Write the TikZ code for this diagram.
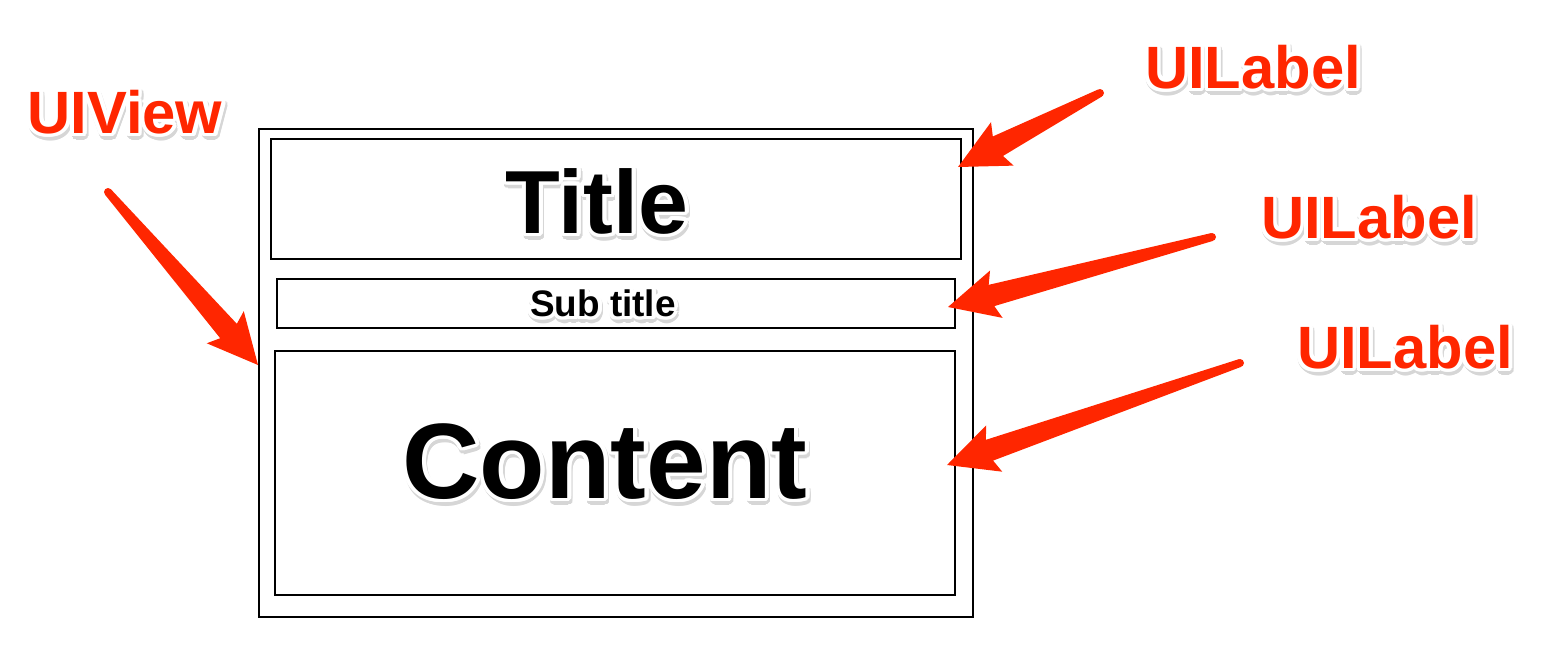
\documentclass[tikz,border=0pt]{standalone}
\usepackage{fontspec}
\setmainfont{Liberation Sans}
\usepackage{tikz}
\usepackage[copies]{contour}
\usetikzlibrary{positioning, calc}
\definecolor{uired}{RGB}{255,38,0}
\contourlength{2.2pt}
\contournumber{20}
\tikzset{box/.style = {draw,line width=1.1pt,inner sep=0pt,outer sep=0pt},
         caption/.style = {text=uired,font=\fontsize{34}{34}\selectfont\bfseries,anchor=base,inner sep=0pt},
         heading/.style = {font=\bfseries,anchor=base,inner sep=0pt}}
% white rim with a soft shadow under it
\newcommand{\halo}[1]{\rlap{\kern0.8pt\raisebox{-1.8pt}{\color{black!16}\contour{black!16}{#1}}}\contour{white}{#1}}
% tapered pointer from tail #1 to tip #2
\newcommand{\pointer}[2]{%
  \coordinate (neck) at ($(#2)!0.9cm!(#1)$);
  \coordinate (barb) at ($(#2)!1cm!(#1)$);
  \fill[uired] ($(#1)!0.08cm!90:(#2)$) -- ($(neck)!0.22cm!90:(#2)$) -- ($(barb)!0.49cm!90:(#2)$)
    -- (#2) -- ($(barb)!0.49cm!-90:(#2)$) -- ($(neck)!0.22cm!-90:(#2)$) -- ($(#1)!0.08cm!-90:(#2)$) -- cycle;
  \fill[uired] (#1) circle (0.08cm);
}

\begin{document}
\begin{tikzpicture}[x=0.02cm,y=-0.02cm]
  \useasboundingbox (0,0) rectangle (1556,670);
  % the view and its labels
  \node[box,minimum width=14.28cm,minimum height=9.76cm] (uiview) at (616,373) {};
  \node[box,minimum width=13.8cm,minimum height=2.4cm] (titlebox) at (616,199) {};
  \node[box,minimum width=13.56cm,minimum height=0.98cm] (subbox) at (616,303.5) {};
  \node[box,minimum width=13.6cm,minimum height=4.88cm] (contentbox) at (615,473) {};
  \node[heading,font=\fontsize{51}{51}\selectfont\bfseries] (title) at (597,233) {\halo{Title}};
  \node[heading,font=\fontsize{21}{21}\selectfont\bfseries] (subtitle) at (603,316) {\halo{Sub title}};
  \node[heading,font=\fontsize{61}{61}\selectfont\bfseries] (content) at (605,498) {\halo{Content}};
  % captions
  \node[caption] (viewlbl) at (125,133) {\halo{UIView}};
  \node[caption] (titlelbl) at (1253,88) {\halo{UILabel}};
  \node[caption] (sublbl) at (1369,238) {\halo{UILabel}};
  \node[caption] (contentlbl) at (1405,368) {\halo{UILabel}};
  % pointers
  \coordinate (viewtail) at (108,192);
  \coordinate (viewtip) at (258,365);
  \coordinate (titletail) at (1100,93);
  \coordinate (titletip) at (958,167);
  \coordinate (subtail) at (1212,237);
  \coordinate (subtip) at (948,307);
  \coordinate (contenttail) at (1240,363);
  \coordinate (contenttip) at (947,465);
  \pointer{viewtail}{viewtip}
  \pointer{titletail}{titletip}
  \pointer{subtail}{subtip}
  \pointer{contenttail}{contenttip}
\end{tikzpicture}
\end{document}
